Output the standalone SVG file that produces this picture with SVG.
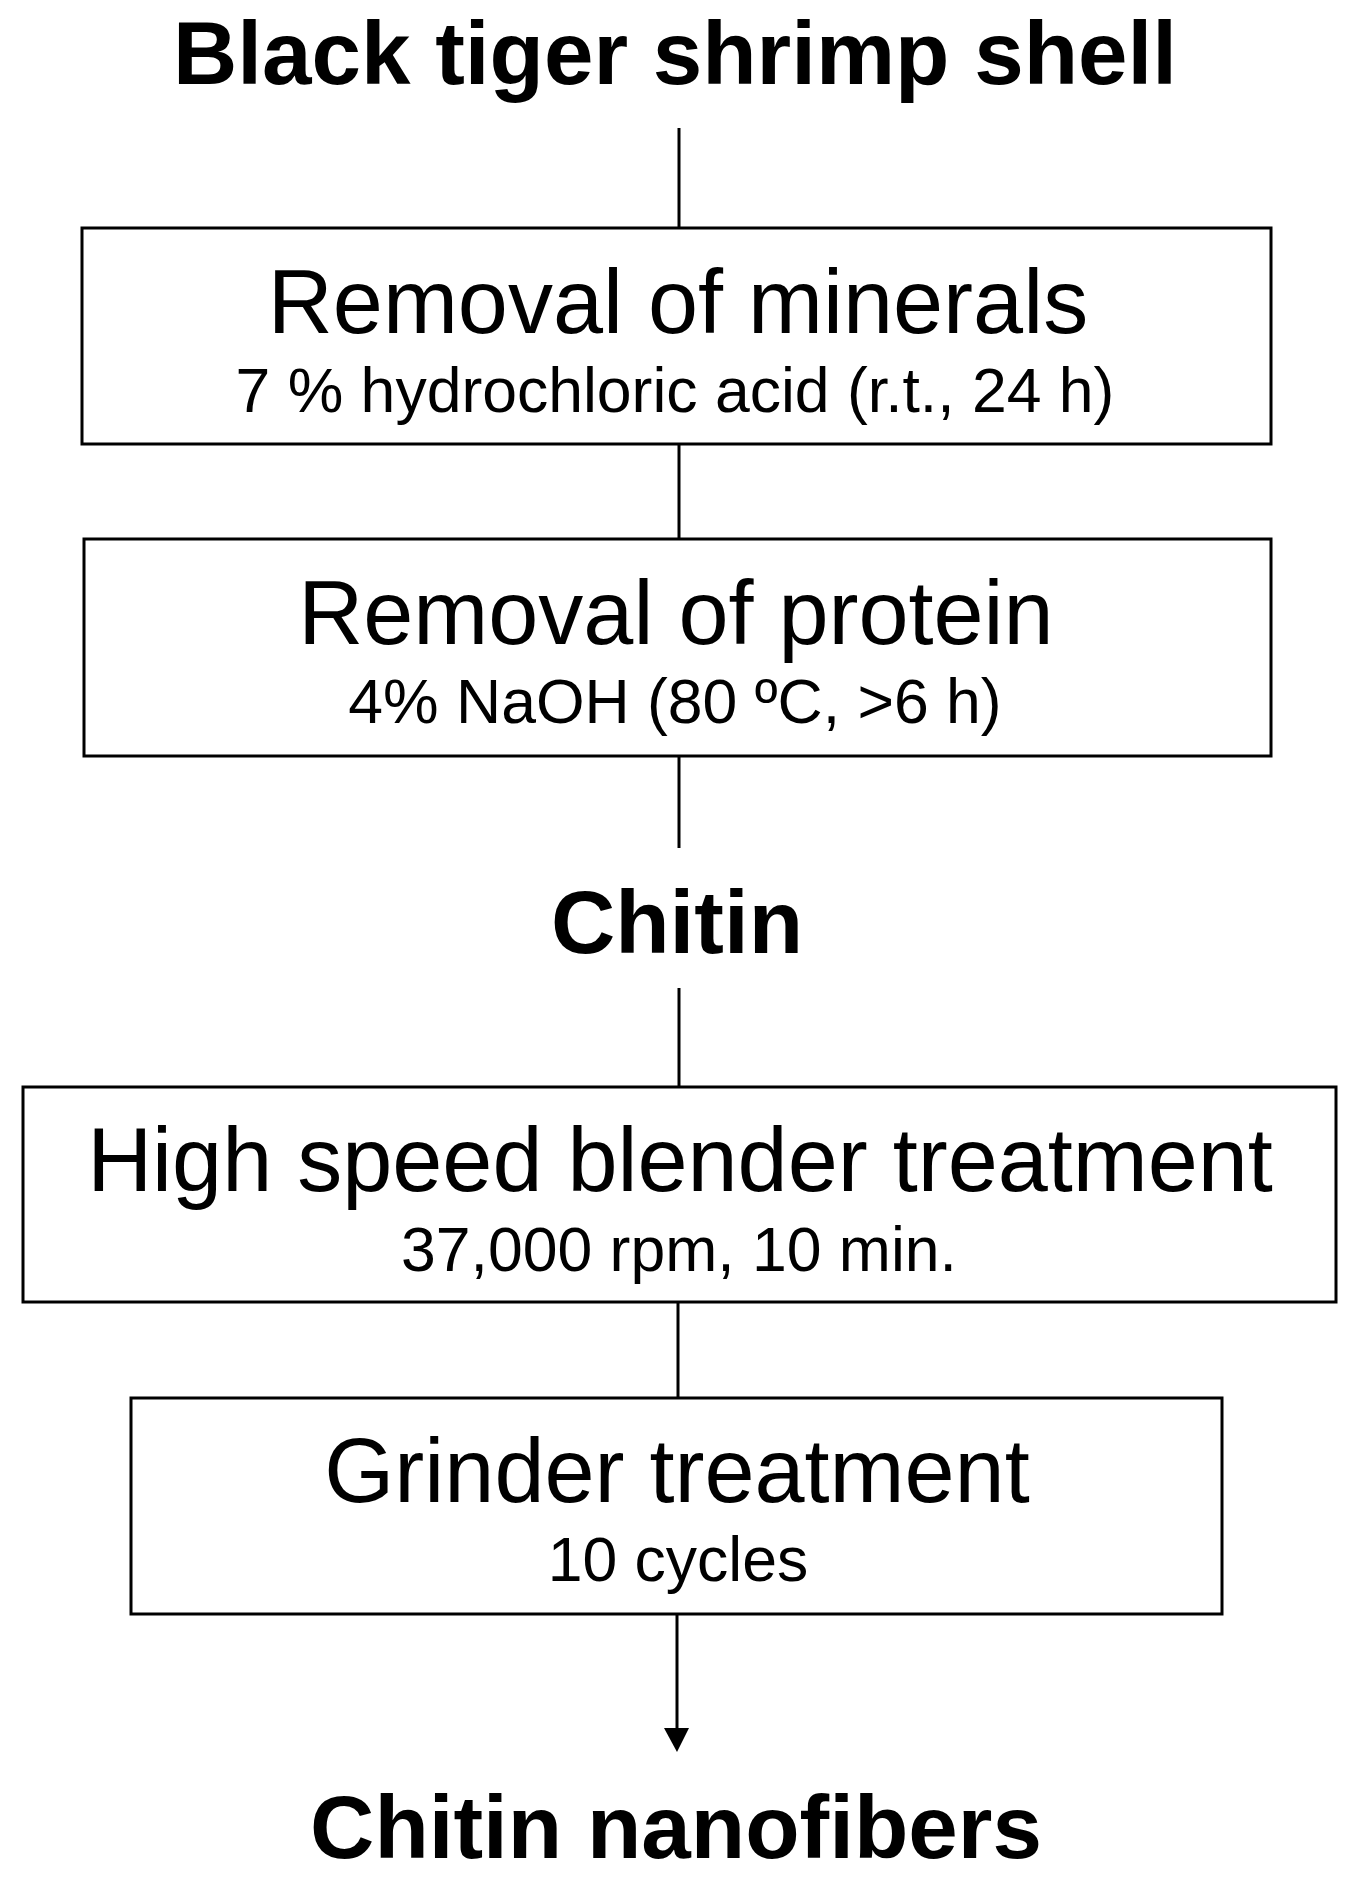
<svg xmlns="http://www.w3.org/2000/svg" width="1361" height="1879" viewBox="0 0 1361 1879">
<style>
.box{fill:#fff;stroke:#000;stroke-width:3}
.ln{stroke:#000;stroke-width:3;fill:none}
.hd{font-family:"Liberation Sans",Arial,sans-serif;font-weight:bold;font-size:89px;text-anchor:middle;fill:#000}
.mn{font-family:"Liberation Sans",Arial,sans-serif;font-size:90px;text-anchor:middle;fill:#000}
.sb{font-family:"Liberation Sans",Arial,sans-serif;font-size:62.5px;text-anchor:middle;fill:#000}
</style>
<rect width="1361" height="1879" fill="#fff"/>
<g id="connectors">
<line class="ln" x1="679" y1="128" x2="679" y2="228"/>
<line class="ln" x1="679" y1="444" x2="679" y2="539"/>
<line class="ln" x1="679" y1="756" x2="679" y2="848"/>
<line class="ln" x1="679" y1="988" x2="679" y2="1087"/>
<line class="ln" x1="678" y1="1302" x2="678" y2="1398"/>
<line class="ln" x1="677" y1="1614" x2="677" y2="1730"/>
<path d="M664,1728 L689,1728 L677,1752 Z" fill="#000"/>
</g>
<g id="start"><text class="hd" x="675" y="84">Black tiger shrimp shell</text></g>
<g id="n1">
<rect class="box" x="82" y="228" width="1189" height="216"/>
<text class="mn" x="678" y="333">Removal of minerals</text>
<text class="sb" x="675" y="412">7 % hydrochloric acid (r.t., 24 h)</text>
</g>
<g id="n2">
<rect class="box" x="84" y="539" width="1187" height="217"/>
<text class="mn" x="676" y="644">Removal of protein</text>
<text class="sb" x="675" y="723">4% NaOH (80 ºC, &gt;6 h)</text>
</g>
<g id="chitin"><text class="hd" x="677" y="953">Chitin</text></g>
<g id="n3">
<rect class="box" x="23" y="1087" width="1313" height="215"/>
<text class="mn" x="680" y="1191">High speed blender treatment</text>
<text class="sb" x="679" y="1271">37,000 rpm, 10 min.</text>
</g>
<g id="n4">
<rect class="box" x="131" y="1398" width="1091" height="216"/>
<text class="mn" x="677" y="1502">Grinder treatment</text>
<text class="sb" x="678" y="1581">10 cycles</text>
</g>
<g id="end"><text class="hd" x="676" y="1858">Chitin nanofibers</text></g>
</svg>
